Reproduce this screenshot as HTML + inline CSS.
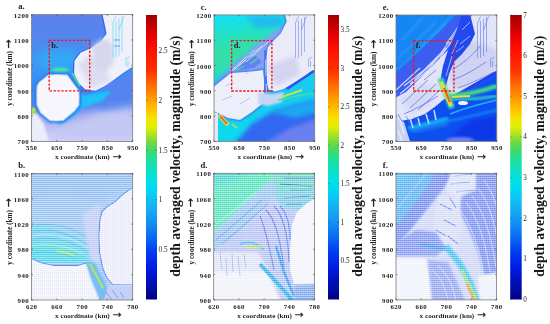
<!DOCTYPE html><html><head><meta charset="utf-8"><style>html,body{margin:0;padding:0;background:#fff;overflow:hidden}svg{display:block}</style></head><body>
<svg width="550" height="324" viewBox="0 0 550 324">
<defs>
<linearGradient id="cm" x1="0" y1="0" x2="0" y2="1">
<stop offset="0.0000" stop-color="#a00000"/>
<stop offset="0.0316" stop-color="#c00000"/>
<stop offset="0.0738" stop-color="#e80000"/>
<stop offset="0.1230" stop-color="#ff1000"/>
<stop offset="0.1933" stop-color="#ff3000"/>
<stop offset="0.2460" stop-color="#ff6a00"/>
<stop offset="0.2988" stop-color="#ffa000"/>
<stop offset="0.3339" stop-color="#ffc400"/>
<stop offset="0.3620" stop-color="#f8e000"/>
<stop offset="0.3902" stop-color="#e4f000"/>
<stop offset="0.4183" stop-color="#b0e420"/>
<stop offset="0.4464" stop-color="#74d840"/>
<stop offset="0.4745" stop-color="#44d868"/>
<stop offset="0.5026" stop-color="#22e090"/>
<stop offset="0.5378" stop-color="#10e0c0"/>
<stop offset="0.5870" stop-color="#00e0e8"/>
<stop offset="0.6221" stop-color="#00d4f4"/>
<stop offset="0.6503" stop-color="#10c0f4"/>
<stop offset="0.6924" stop-color="#14a8f2"/>
<stop offset="0.7417" stop-color="#1088f2"/>
<stop offset="0.7909" stop-color="#0862f2"/>
<stop offset="0.8260" stop-color="#0042f0"/>
<stop offset="0.8787" stop-color="#0020e8"/>
<stop offset="0.9315" stop-color="#0010c0"/>
<stop offset="0.9666" stop-color="#000ca0"/>
<stop offset="1.0000" stop-color="#000080"/>
</linearGradient>
<clipPath id="clipa"><rect x="31.5" y="14.6" width="101.20" height="126.80"/></clipPath>
<clipPath id="clipc"><rect x="214" y="14.9" width="100.70" height="126.50"/></clipPath>
<clipPath id="clipe"><rect x="396" y="15" width="100.80" height="126.40"/></clipPath>
<clipPath id="clipb"><rect x="31.5" y="173.5" width="101.20" height="126.50"/></clipPath>
<clipPath id="clipd"><rect x="213.7" y="173.3" width="100.80" height="126.60"/></clipPath>
<clipPath id="clipf"><rect x="396" y="173.3" width="100.60" height="126.60"/></clipPath>

<filter id="b05" x="-20%" y="-20%" width="140%" height="140%"><feGaussianBlur stdDeviation="0.5"/></filter>
<filter id="b1" x="-20%" y="-20%" width="140%" height="140%"><feGaussianBlur stdDeviation="1"/></filter>
<filter id="b2" x="-30%" y="-30%" width="160%" height="160%"><feGaussianBlur stdDeviation="2"/></filter>
<filter id="b4" x="-50%" y="-50%" width="200%" height="200%"><feGaussianBlur stdDeviation="4"/></filter>
<linearGradient id="ga" x1="0" y1="0" x2="0" y2="1">
<stop offset="0" stop-color="#5e80ea"/><stop offset="0.18" stop-color="#5486ee"/><stop offset="0.4" stop-color="#3e92f4"/><stop offset="0.6" stop-color="#3a8af4"/><stop offset="0.7" stop-color="#4a82f0"/><stop offset="0.8" stop-color="#9aa6f0"/><stop offset="1" stop-color="#dadaf6"/>
</linearGradient>
<linearGradient id="gc1" x1="0" y1="0" x2="0.15" y2="1">
<stop offset="0" stop-color="#12dcf2"/><stop offset="0.18" stop-color="#14e0ec"/><stop offset="0.35" stop-color="#24e0c4"/><stop offset="0.6" stop-color="#34e0a4"/><stop offset="1" stop-color="#2cdcb8"/>
</linearGradient>
<linearGradient id="gc2" x1="0" y1="0" x2="0" y2="1">
<stop offset="0" stop-color="#18a0f0"/><stop offset="0.5" stop-color="#3070f0"/><stop offset="1" stop-color="#6a80f0"/>
</linearGradient>
<linearGradient id="gb" x1="0" y1="0" x2="0" y2="1">
<stop offset="0" stop-color="#4a90f0"/><stop offset="0.5" stop-color="#30b8f0"/><stop offset="0.7" stop-color="#30d0f0"/><stop offset="1" stop-color="#40d0f0"/>
</linearGradient>
<linearGradient id="gd" x1="0" y1="0" x2="0.5" y2="1">
<stop offset="0" stop-color="#40e0c0"/><stop offset="0.6" stop-color="#40d8c8"/><stop offset="1" stop-color="#30b0f0"/>
</linearGradient>
<pattern id="qgrid" x="0" y="0" width="2" height="2" patternUnits="userSpaceOnUse">
<rect x="0" y="1" width="2" height="1" fill="#fff" opacity="0.5"/><rect x="1" y="0" width="1" height="1" fill="#fff" opacity="0.2"/>
</pattern>
<filter id="sat" filterUnits="userSpaceOnUse" x="0" y="0" width="550" height="324" color-interpolation-filters="sRGB"><feColorMatrix type="matrix" values="1.25 0 0 0 -0.25  0 1.25 0 0 -0.25  0 0 1.25 0 -0.25  0 0 0 1 0"/></filter>
<pattern id="qdots" x="0" y="0" width="2" height="2" patternUnits="userSpaceOnUse">
<rect x="0" y="0" width="1" height="1" fill="#c0c8f0" opacity="0.35"/>
</pattern>

<filter id="soft" filterUnits="userSpaceOnUse" x="0" y="0" width="550" height="324"><feGaussianBlur stdDeviation="0.35"/></filter>
</defs>
<rect width="550" height="324" fill="#fff"/>
<g clip-path="url(#clipa)"><g filter="url(#soft)">
<rect x="31.5" y="14.6" width="101.20" height="126.80" fill="url(#ga)" />
<ellipse cx="58" cy="60" rx="24" ry="11" fill="#30acf8" opacity="0.85" filter="url(#b4)"/>
<ellipse cx="60" cy="70" rx="9" ry="2.5" fill="#50e8a0" opacity="0.9" filter="url(#b1)"/>
<path d="M100,86 L136,70 L136,112 L100,112 Z" fill="#5484f0" filter="url(#b2)"/>
<path d="M58,123 C70,119 78,112 84,102 C88,96 96,94 110,93" stroke="#1cb8f8" stroke-width="4" fill="none" filter="url(#b1)"/>
<path d="M80,94 C90,96 100,95 108,92 L104,100 C96,104 88,106 82,108 Z" fill="#20c0f8" filter="url(#b1)"/>
<path d="M40,141.4 L70,124 L100,112 L136,106 L136,141.4 Z" fill="#c4c8f4" filter="url(#b4)"/>
<path d="M102.0,9.6 L102.0,14.6 L104.5,26.0 L106.0,34.0 L100.0,42.0 L90.0,48.5 L80.0,53.0 L74.0,61.0 L73.6,74.0 L78.0,83.0 L84.5,89.5 L95.0,91.0 L104.0,86.5 L113.5,80.0 L123.0,73.0 L131.0,67.7 L136.0,65.0 L136.0,9.6 Z" fill="#2a6cf0" stroke="#2a6cf0" stroke-width="1.6" filter="url(#b05)"/>
<path d="M102.0,9.6 L102.0,14.6 L104.5,26.0 L106.0,34.0 L100.0,42.0 L90.0,48.5 L80.0,53.0 L74.0,61.0 L73.6,74.0 L78.0,83.0 L84.5,89.5 L95.0,91.0 L104.0,86.5 L113.5,80.0 L123.0,73.0 L131.0,67.7 L136.0,65.0 L136.0,9.6 Z" fill="#f0f0fa" transform="translate(0.5,-0.3)"/>
<path d="M77.5,64.6 L91.5,88.6 L111.5,80.6 L91.5,54.6 Z" fill="#dcdcf2" filter="url(#b2)"/>
<path d="M92,46 L104,38 L112,44 L114,62 L104,74 L94,66 Z" fill="#d6d6ee" filter="url(#b2)"/>
<path d="M48.5,75.4 L57.5,75.0 L67.0,75.4 L71.0,81.0 L78.5,91.0 L78.7,97.6 L78.5,105.0 L74.4,110.6 L63.0,120.0 L56.5,120.4 L50.0,120.0 L41.0,112.4 L37.4,105.0 L37.2,95.6 L37.4,86.5 L39.3,82.8 Z" fill="none" stroke="#2a80f0" stroke-width="5" filter="url(#b1)"/>
<path d="M48.5,75.4 L57.5,75.0 L67.0,75.4 L71.0,81.0 L78.5,91.0 L78.7,97.6 L78.5,105.0 L74.4,110.6 L63.0,120.0 L56.5,120.4 L50.0,120.0 L41.0,112.4 L37.4,105.0 L37.2,95.6 L37.4,86.5 L39.3,82.8 Z" fill="#a8c4f8" stroke="#a8c4f8" stroke-width="2"/>
<path d="M48.5,75.4 L57.5,75.0 L67.0,75.4 L71.0,81.0 L78.5,91.0 L78.7,97.6 L78.5,105.0 L74.4,110.6 L63.0,120.0 L56.5,120.4 L50.0,120.0 L41.0,112.4 L37.4,105.0 L37.2,95.6 L37.4,86.5 L39.3,82.8 Z" fill="#f6f6fc"/>
<path d="M72,73 L80,86" stroke="#50e090" stroke-width="1.6" filter="url(#b05)"/>
<path d="M31,112 L37,114 L44,124 L49,141.4 L31,141.4 Z" fill="#ececfa" filter="url(#b1)"/>
<ellipse cx="33.5" cy="111" rx="2" ry="3.5" fill="#b0e040" filter="url(#b05)"/>
<path d="M113.0,57.6V22.6M116.0,57.6V20.6M119.0,55.6V18.6M122.0,51.6V16.6M113.0,22.6L116.0,16.1M119.0,29.6L124.0,16.1M126.0,66.6V58.6L130.0,56.6M128.0,66.6V60.6" stroke="#40d0f0" stroke-width="0.55" fill="none"/>
<path d="M114,40 h6 M114,46 h6" stroke="#8090f0" stroke-width="1" fill="none"/>
</g></g>
<rect x="49.21" y="40.36" width="40.48" height="50.52" fill="none" stroke="#f01818" stroke-width="1.35" stroke-dasharray="2.4 1.5"/>
<text transform="translate(51.31,47.76) scale(1.0,0.95)" font-family="Liberation Serif, serif" font-weight="bold" font-size="8.4" fill="#1a1a2a">b.</text>
<rect x="31.5" y="14.6" width="101.20" height="126.80" fill="none" stroke="#7a7a7a" stroke-width="0.8"/>
<text transform="translate(31.70,150.20) scale(0.95,0.86)" font-family="Liberation Serif, serif" font-weight="bold" font-size="7.2" letter-spacing="0.45" fill="#222" text-anchor="middle">550</text>
<text transform="translate(57.00,150.20) scale(0.95,0.86)" font-family="Liberation Serif, serif" font-weight="bold" font-size="7.2" letter-spacing="0.45" fill="#222" text-anchor="middle">650</text>
<text transform="translate(82.30,150.20) scale(0.95,0.86)" font-family="Liberation Serif, serif" font-weight="bold" font-size="7.2" letter-spacing="0.45" fill="#222" text-anchor="middle">750</text>
<text transform="translate(107.60,150.20) scale(0.95,0.86)" font-family="Liberation Serif, serif" font-weight="bold" font-size="7.2" letter-spacing="0.45" fill="#222" text-anchor="middle">850</text>
<text transform="translate(132.90,150.20) scale(0.95,0.86)" font-family="Liberation Serif, serif" font-weight="bold" font-size="7.2" letter-spacing="0.45" fill="#222" text-anchor="middle">950</text>
<text transform="translate(29.10,144.40) scale(0.95,0.86)" font-family="Liberation Serif, serif" font-weight="bold" font-size="7.2" letter-spacing="0.45" fill="#222" text-anchor="end">700</text>
<text transform="translate(29.10,119.04) scale(0.95,0.86)" font-family="Liberation Serif, serif" font-weight="bold" font-size="7.2" letter-spacing="0.45" fill="#222" text-anchor="end">800</text>
<text transform="translate(29.10,93.68) scale(0.95,0.86)" font-family="Liberation Serif, serif" font-weight="bold" font-size="7.2" letter-spacing="0.45" fill="#222" text-anchor="end">900</text>
<text transform="translate(29.10,68.32) scale(0.95,0.86)" font-family="Liberation Serif, serif" font-weight="bold" font-size="7.2" letter-spacing="0.45" fill="#222" text-anchor="end">1000</text>
<text transform="translate(29.10,42.96) scale(0.95,0.86)" font-family="Liberation Serif, serif" font-weight="bold" font-size="7.2" letter-spacing="0.45" fill="#222" text-anchor="end">1100</text>
<text transform="translate(29.10,17.60) scale(0.95,0.86)" font-family="Liberation Serif, serif" font-weight="bold" font-size="7.2" letter-spacing="0.45" fill="#222" text-anchor="end">1200</text>
<path d="M31.50 141.4v-1.5M31.50 14.6v1.5M56.80 141.4v-1.5M56.80 14.6v1.5M82.10 141.4v-1.5M82.10 14.6v1.5M107.40 141.4v-1.5M107.40 14.6v1.5M132.70 141.4v-1.5M132.70 14.6v1.5M31.5 141.40h1.5M132.7 141.40h-1.5M31.5 116.04h1.5M132.7 116.04h-1.5M31.5 90.68h1.5M132.7 90.68h-1.5M31.5 65.32h1.5M132.7 65.32h-1.5M31.5 39.96h1.5M132.7 39.96h-1.5M31.5 14.60h1.5M132.7 14.60h-1.5" stroke="#444" stroke-width="0.6" fill="none"/>
<text transform="translate(55.10,159.30) scale(1,0.88)" font-family="Liberation Serif, serif" font-weight="bold" font-size="7.2" fill="#262626">x coordinate (km) <tspan font-family="DejaVu Sans" font-size="11" dx="0.6" dy="0.3">→</tspan></text>
<text transform="translate(11.80,105.80) rotate(-90)" font-family="Liberation Serif, serif" font-weight="bold" font-size="7.2" fill="#262626">y coordinate (km) <tspan font-family="DejaVu Sans" font-size="11" dx="0.6" dy="0.3">→</tspan></text>
<text transform="translate(18.30,9.40) scale(1.05,0.9)" font-family="Liberation Serif, serif" font-weight="bold" font-size="8.2" fill="#222">a.</text>
<g clip-path="url(#clipc)"><g filter="url(#soft)">
<rect x="214" y="14.9" width="100.70" height="126.50" fill="#14ccf0" />
<path d="M214,112 L240,121 L250,118 L242,141.4 L214,141.4 Z" fill="#10d8ee" filter="url(#b2)"/>
<path d="M209,9.9 L284,9.9 L287,24 L272,34 L252,48 L234,64 L209,84 Z" fill="url(#gc1)" filter="url(#b1)"/>
<path d="M246,16 L282,16 L284,26 L256,28 Z" fill="#20bcf0" filter="url(#b2)"/>
<path d="M270,37 L287,33" stroke="#e8e040" stroke-width="2" filter="url(#b05)"/>
<path d="M262,41 L282,36" stroke="#b0e050" stroke-width="1.2" filter="url(#b05)"/>
<path d="M236,141.4 L252,124 L272,112 L300,104 L320,100 L320,145 L236,145 Z" fill="#3068f0" filter="url(#b2)"/>
<path d="M262,145 L290,128 L320,118 L320,145 Z" fill="#6a80f0" filter="url(#b2)"/>
<path d="M270,112 L300,104 L318,100 L318,112 L296,118 Z" fill="#1ca8f0" filter="url(#b2)"/>
<path d="M214,84 L234,64 L252,48 L272,33 L287,24 L280,36 L270,44 L266,56 L264,72 L246,72 L231,73 L214,90 Z" fill="#84a2f0" filter="url(#b1)"/>
<path d="M236,66 L246,58 L256,56 L262,62 L254,68 L240,70 Z" fill="#5070f0" opacity="0.6" filter="url(#b05)"/>
<path d="M232,70 L254,50 M238,66 L262,46 M246,62 L270,40 M226,76 L246,60" stroke="#e6ecfa" stroke-width="1" fill="none" opacity="0.8"/>
<path d="M242,58 L254,52 M250,64 L258,58 M236,70 L244,66" stroke="#40e090" stroke-width="1.2" fill="none" filter="url(#b05)"/>
<path d="M283.0,10.0 L286.0,22.0 L280.0,34.0 L272.0,42.0 L267.0,48.0 L265.0,62.0 L266.0,84.0 L268.0,90.0 L274.0,92.0 L282.0,90.0 L292.0,84.0 L302.0,78.0 L310.0,72.0 L320.0,68.0 L320.0,10.0 Z" fill="#3058f0" filter="url(#b1)"/>
<path d="M283.0,10.0 L286.0,22.0 L280.0,34.0 L272.0,42.0 L267.0,48.0 L265.0,62.0 L266.0,84.0 L268.0,90.0 L274.0,92.0 L282.0,90.0 L292.0,84.0 L302.0,78.0 L310.0,72.0 L320.0,68.0 L320.0,10.0 Z" fill="#eaeaf8" transform="translate(0.7,-0.4)"/>
<path d="M268,66 L276,86 L300,74 L296,56 Z" fill="#d4d4f0" filter="url(#b2)"/>
<path d="M287,89 L314,71" stroke="#3050f0" stroke-width="2.2" filter="url(#b05)"/>
<path d="M211.0,89.0 L222.0,80.0 L231.0,73.0 L246.0,72.0 L256.0,71.0 L263.0,70.0 L264.0,80.0 L264.0,92.0 L262.0,104.0 L252.0,112.0 L240.0,120.0 L228.0,118.0 L218.0,113.0 L211.0,110.0 Z" fill="#3a70f0" stroke="#3a70f0" stroke-width="2" filter="url(#b1)"/>
<path d="M211.0,89.0 L222.0,80.0 L231.0,73.0 L246.0,72.0 L256.0,71.0 L263.0,70.0 L264.0,80.0 L264.0,92.0 L262.0,104.0 L252.0,112.0 L240.0,120.0 L228.0,118.0 L218.0,113.0 L211.0,110.0 Z" fill="#eceffa"/>
<path d="M222,100 L232,96 M240,104 L250,98 M226,86 L234,82 M246,74 L254,68" stroke="#a0b0f0" stroke-width="1" opacity="0.7"/>
<path d="M212,112 L218,113 L218,141.4 L212,141.4 Z" fill="#e0e8f8" filter="url(#b05)"/>
<path d="M265,50 L265,70 L266,90 L268,100" stroke="#4a78f0" stroke-width="3" fill="none" filter="url(#b05)"/>
<path d="M265.5,60 L266,76 M266,84 L267,96" stroke="#c8d8f8" stroke-width="0.8" fill="none"/>
<path d="M258,92 L272,94 L284,92 L282,102 L268,106 L258,104 Z" fill="#c8d4f4" filter="url(#b1)"/>
<path d="M282,97 L302,90" stroke="#c8e440" stroke-width="2" filter="url(#b05)"/>
<path d="M278,100 L312,93" stroke="#40e0a0" stroke-width="1.5" filter="url(#b05)"/>
<path d="M219,115 L228,125" stroke="#e8e040" stroke-width="4" filter="url(#b05)"/>
<path d="M220,116 L227,124" stroke="#f07020" stroke-width="2" filter="url(#b05)"/>
<path d="M232,124 L237,128" stroke="#e0d040" stroke-width="1.5" filter="url(#b05)"/>
<path d="M295.5,57.9V22.9M298.5,57.9V20.9M301.5,55.9V18.9M304.5,51.9V16.9M295.5,22.9L298.5,16.4M301.5,29.9L306.5,16.4M308.5,66.9V58.9L312.5,56.9M310.5,66.9V60.9" stroke="#6080f0" stroke-width="0.55" fill="none"/>
</g></g>
<rect x="231.62" y="40.60" width="40.28" height="50.40" fill="none" stroke="#f01818" stroke-width="1.35" stroke-dasharray="2.4 1.5"/>
<text transform="translate(233.72,48.00) scale(1.0,0.95)" font-family="Liberation Serif, serif" font-weight="bold" font-size="8.4" fill="#1a1a2a">d.</text>
<rect x="214" y="14.9" width="100.70" height="126.50" fill="none" stroke="#7a7a7a" stroke-width="0.8"/>
<text transform="translate(214.20,150.20) scale(0.95,0.86)" font-family="Liberation Serif, serif" font-weight="bold" font-size="7.2" letter-spacing="0.45" fill="#222" text-anchor="middle">550</text>
<text transform="translate(239.38,150.20) scale(0.95,0.86)" font-family="Liberation Serif, serif" font-weight="bold" font-size="7.2" letter-spacing="0.45" fill="#222" text-anchor="middle">650</text>
<text transform="translate(264.55,150.20) scale(0.95,0.86)" font-family="Liberation Serif, serif" font-weight="bold" font-size="7.2" letter-spacing="0.45" fill="#222" text-anchor="middle">750</text>
<text transform="translate(289.72,150.20) scale(0.95,0.86)" font-family="Liberation Serif, serif" font-weight="bold" font-size="7.2" letter-spacing="0.45" fill="#222" text-anchor="middle">850</text>
<text transform="translate(314.90,150.20) scale(0.95,0.86)" font-family="Liberation Serif, serif" font-weight="bold" font-size="7.2" letter-spacing="0.45" fill="#222" text-anchor="middle">950</text>
<text transform="translate(211.60,144.40) scale(0.95,0.86)" font-family="Liberation Serif, serif" font-weight="bold" font-size="7.2" letter-spacing="0.45" fill="#222" text-anchor="end">700</text>
<text transform="translate(211.60,119.10) scale(0.95,0.86)" font-family="Liberation Serif, serif" font-weight="bold" font-size="7.2" letter-spacing="0.45" fill="#222" text-anchor="end">800</text>
<text transform="translate(211.60,93.80) scale(0.95,0.86)" font-family="Liberation Serif, serif" font-weight="bold" font-size="7.2" letter-spacing="0.45" fill="#222" text-anchor="end">900</text>
<text transform="translate(211.60,68.50) scale(0.95,0.86)" font-family="Liberation Serif, serif" font-weight="bold" font-size="7.2" letter-spacing="0.45" fill="#222" text-anchor="end">1000</text>
<text transform="translate(211.60,43.20) scale(0.95,0.86)" font-family="Liberation Serif, serif" font-weight="bold" font-size="7.2" letter-spacing="0.45" fill="#222" text-anchor="end">1100</text>
<text transform="translate(211.60,17.90) scale(0.95,0.86)" font-family="Liberation Serif, serif" font-weight="bold" font-size="7.2" letter-spacing="0.45" fill="#222" text-anchor="end">1200</text>
<path d="M214.00 141.4v-1.5M214.00 14.9v1.5M239.18 141.4v-1.5M239.18 14.9v1.5M264.35 141.4v-1.5M264.35 14.9v1.5M289.52 141.4v-1.5M289.52 14.9v1.5M314.70 141.4v-1.5M314.70 14.9v1.5M214 141.40h1.5M314.7 141.40h-1.5M214 116.10h1.5M314.7 116.10h-1.5M214 90.80h1.5M314.7 90.80h-1.5M214 65.50h1.5M314.7 65.50h-1.5M214 40.20h1.5M314.7 40.20h-1.5M214 14.90h1.5M314.7 14.90h-1.5" stroke="#444" stroke-width="0.6" fill="none"/>
<text transform="translate(237.60,159.30) scale(1,0.88)" font-family="Liberation Serif, serif" font-weight="bold" font-size="7.2" fill="#262626">x coordinate (km) <tspan font-family="DejaVu Sans" font-size="11" dx="0.6" dy="0.3">→</tspan></text>
<text transform="translate(194.30,106.10) rotate(-90)" font-family="Liberation Serif, serif" font-weight="bold" font-size="7.2" fill="#262626">y coordinate (km) <tspan font-family="DejaVu Sans" font-size="11" dx="0.6" dy="0.3">→</tspan></text>
<text transform="translate(200.80,9.70) scale(1.05,0.9)" font-family="Liberation Serif, serif" font-weight="bold" font-size="8.2" fill="#222">c.</text>
<g clip-path="url(#clipe)"><g filter="url(#soft)">
<rect x="396" y="15" width="100.80" height="126.40" fill="#1050f0" />
<path d="M391,10 L462,10 L453,19 L438,34 L416,55 L391,78 Z" fill="#1886f4" filter="url(#b1)"/>
<path d="M398,58 L436,22 M398,70 L446,24 M402,40 L424,16 M420,48 L452,16" stroke="#48b0f8" stroke-width="1.3" opacity="0.6" filter="url(#b1)"/>
<path d="M391,78 L416,55 L438,34 L453,19 L462,10 L472,10 L464,30 L452,46 L440,58 L430,68 L418,80 L406,92 L391,100 Z" fill="#3c5cf0" filter="url(#b05)"/>
<path d="M396,90 L420,68 M400,94 L428,70 M410,84 L436,60 M418,76 L446,48 M426,72 L452,42 M434,62 L458,30 M440,58 L462,26 M446,44 L466,16 M404,86 L424,70" stroke="#e6eafc" stroke-width="1.1" opacity="0.85" fill="none"/>
<path d="M391.0,100.0 L406.0,92.0 L418.0,80.0 L430.0,68.0 L440.0,58.0 L452.0,46.0 L464.0,30.0 L472.0,10.0 L500.0,10.0 L500.0,70.0 L486.0,77.0 L472.0,85.0 L460.0,92.0 L450.0,96.0 L443.0,100.0 L436.0,106.0 L425.0,114.0 L412.0,119.0 L400.0,121.0 L391.0,120.0 Z" fill="#e2e4f7"/>
<path d="M446,60 L470,40 L497,50 L497,70 L470,86 L452,90 Z" fill="#cfd2f0" filter="url(#b2)"/>
<path d="M400,100 L420,84 L438,86 L430,106 L410,112 Z" fill="#d6d9f3" filter="url(#b2)"/>
<path d="M402,104 L428,80 M410,108 L436,84 M418,110 L440,90 M404,114 C418,108 428,102 438,96 M452,70 C462,64 472,56 480,46 M452,80 C464,76 474,70 486,62 M458,88 C470,84 482,78 494,72 M398,114 L402,122 M406,116 L410,124 M414,117 L417,124 M424,80 L436,70" stroke="#4a66f0" stroke-width="0.9" opacity="0.75" fill="none"/>
<path d="M462,14 L470,14 L475,34 L470,44 L462,54 L454,62 L449,74 L446,86 L440,82 L443,66 L448,50 L456,32 Z" fill="#2048f0" filter="url(#b05)"/>
<path d="M452,56 L446,76 M458,40 L452,54 M462,30 L470,22 M460,44 L470,36 M456,52 L464,46" stroke="#e0e6fa" stroke-width="0.9" opacity="0.75"/>
<path d="M455,96 L497,72" stroke="#2040f0" stroke-width="3" filter="url(#b05)"/>
<path d="M446,96 C465,95 480,92 497,86" stroke="#40e080" stroke-width="4" fill="none" filter="url(#b1)"/>
<path d="M448,99 C465,100 480,99 497,96" stroke="#30d0c0" stroke-width="2.5" fill="none" filter="url(#b1)"/>
<path d="M452,97 L470,96" stroke="#e0e040" stroke-width="2" filter="url(#b05)"/>
<path d="M440,78 L452,108" stroke="#40e0a0" stroke-width="6" filter="url(#b1)"/>
<path d="M441,82 L451,106" stroke="#d8e040" stroke-width="4" filter="url(#b05)"/>
<path d="M444,88 L450,102" stroke="#f06020" stroke-width="2.2" filter="url(#b05)"/>
<ellipse cx="463" cy="103" rx="5" ry="2" fill="#f4f4fc" filter="url(#b05)"/>
<path d="M450,114 C465,108 480,104 497,100" stroke="#20b0f8" stroke-width="1.5" fill="none" filter="url(#b05)"/>
<path d="M408,128 C425,125 435,122 448,118" stroke="#10a8f8" stroke-width="3" fill="none" filter="url(#b1)"/>
<path d="M445,141.4 L470,120 L497,115 L497,141.4 Z" fill="#1038e8" filter="url(#b2)"/>
<ellipse cx="460" cy="140" rx="14" ry="3" fill="#7080f0" filter="url(#b1)"/>
<path d="M394,118 L404,122 L410,141.4 L394,141.4 Z" fill="#c8d2f6" filter="url(#b05)"/>
<path d="M400,120 L404,134 M410,118 L413,128 M418,118 L420,126 M426,114 L429,124 M434,110 L436,120 M398,130 L402,141" stroke="#e8ecfa" stroke-width="1.6" opacity="0.85" fill="none"/>
<path d="M410,130 C425,127 435,124 448,121" stroke="#28c0f8" stroke-width="5" fill="none" opacity="0.6" filter="url(#b2)"/>
<path d="M448,121 C465,118 480,114 497,110" stroke="#18a0f8" stroke-width="2" fill="none" opacity="0.7" filter="url(#b1)"/>
<path d="M477.5,58V23M480.5,58V21M483.5,56V19M486.5,52V17M477.5,23L480.5,16.5M483.5,30L488.5,16.5M490.5,67V59L494.5,57M492.5,67V61" stroke="#5070f0" stroke-width="0.55" fill="none"/>
</g></g>
<rect x="413.64" y="40.68" width="40.32" height="50.36" fill="none" stroke="#f01818" stroke-width="1.35" stroke-dasharray="2.4 1.5"/>
<text transform="translate(415.74,48.08) scale(1.0,0.95)" font-family="Liberation Serif, serif" font-weight="bold" font-size="8.4" fill="#1a1a2a">f.</text>
<rect x="396" y="15" width="100.80" height="126.40" fill="none" stroke="#7a7a7a" stroke-width="0.8"/>
<text transform="translate(396.20,150.20) scale(0.95,0.86)" font-family="Liberation Serif, serif" font-weight="bold" font-size="7.2" letter-spacing="0.45" fill="#222" text-anchor="middle">550</text>
<text transform="translate(421.40,150.20) scale(0.95,0.86)" font-family="Liberation Serif, serif" font-weight="bold" font-size="7.2" letter-spacing="0.45" fill="#222" text-anchor="middle">650</text>
<text transform="translate(446.60,150.20) scale(0.95,0.86)" font-family="Liberation Serif, serif" font-weight="bold" font-size="7.2" letter-spacing="0.45" fill="#222" text-anchor="middle">750</text>
<text transform="translate(471.80,150.20) scale(0.95,0.86)" font-family="Liberation Serif, serif" font-weight="bold" font-size="7.2" letter-spacing="0.45" fill="#222" text-anchor="middle">850</text>
<text transform="translate(497.00,150.20) scale(0.95,0.86)" font-family="Liberation Serif, serif" font-weight="bold" font-size="7.2" letter-spacing="0.45" fill="#222" text-anchor="middle">950</text>
<text transform="translate(393.60,144.40) scale(0.95,0.86)" font-family="Liberation Serif, serif" font-weight="bold" font-size="7.2" letter-spacing="0.45" fill="#222" text-anchor="end">700</text>
<text transform="translate(393.60,119.12) scale(0.95,0.86)" font-family="Liberation Serif, serif" font-weight="bold" font-size="7.2" letter-spacing="0.45" fill="#222" text-anchor="end">800</text>
<text transform="translate(393.60,93.84) scale(0.95,0.86)" font-family="Liberation Serif, serif" font-weight="bold" font-size="7.2" letter-spacing="0.45" fill="#222" text-anchor="end">900</text>
<text transform="translate(393.60,68.56) scale(0.95,0.86)" font-family="Liberation Serif, serif" font-weight="bold" font-size="7.2" letter-spacing="0.45" fill="#222" text-anchor="end">1000</text>
<text transform="translate(393.60,43.28) scale(0.95,0.86)" font-family="Liberation Serif, serif" font-weight="bold" font-size="7.2" letter-spacing="0.45" fill="#222" text-anchor="end">1100</text>
<text transform="translate(393.60,18.00) scale(0.95,0.86)" font-family="Liberation Serif, serif" font-weight="bold" font-size="7.2" letter-spacing="0.45" fill="#222" text-anchor="end">1200</text>
<path d="M396.00 141.4v-1.5M396.00 15v1.5M421.20 141.4v-1.5M421.20 15v1.5M446.40 141.4v-1.5M446.40 15v1.5M471.60 141.4v-1.5M471.60 15v1.5M496.80 141.4v-1.5M496.80 15v1.5M396 141.40h1.5M496.8 141.40h-1.5M396 116.12h1.5M496.8 116.12h-1.5M396 90.84h1.5M496.8 90.84h-1.5M396 65.56h1.5M496.8 65.56h-1.5M396 40.28h1.5M496.8 40.28h-1.5M396 15.00h1.5M496.8 15.00h-1.5" stroke="#444" stroke-width="0.6" fill="none"/>
<text transform="translate(419.60,159.30) scale(1,0.88)" font-family="Liberation Serif, serif" font-weight="bold" font-size="7.2" fill="#262626">x coordinate (km) <tspan font-family="DejaVu Sans" font-size="11" dx="0.6" dy="0.3">→</tspan></text>
<text transform="translate(376.30,106.20) rotate(-90)" font-family="Liberation Serif, serif" font-weight="bold" font-size="7.2" fill="#262626">y coordinate (km) <tspan font-family="DejaVu Sans" font-size="11" dx="0.6" dy="0.3">→</tspan></text>
<text transform="translate(382.80,9.80) scale(1.05,0.9)" font-family="Liberation Serif, serif" font-weight="bold" font-size="8.2" fill="#222">e.</text>
<g clip-path="url(#clipb)"><g filter="url(#soft)">
<g filter="url(#sat)">
<rect x="31.5" y="173.5" width="101.20" height="126.50" fill="#a0c8f6" />
<path d="M26,168 L136,168 L136,186 L100,200 L60,196 L26,200 Z" fill="#98c2f6" filter="url(#b2)"/>
<path d="M26,222 L55,228 L76,236 L88,248 L92,262 L26,262 Z" fill="#74d4f0" filter="url(#b2)"/>
<path d="M26,240 L60,243 L80,250 L90,262 L26,262 Z" fill="#54dae8" filter="url(#b1)"/>
<path d="M82,214 L100,204 L100,262 L92,262 Z" fill="#c4d0f6" filter="url(#b1)"/>
<path d="M56,252 C62,251 68,253 74,256" stroke="#b8e860" stroke-width="2" fill="none" filter="url(#b05)"/>
<path d="M40,248 C55,246 66,248 80,253" stroke="#70e0b0" stroke-width="1.4" fill="none" filter="url(#b05)"/>
<path d="M30,232 C48,228 68,232 86,244 M30,240 C50,236 70,240 88,252 M30,254 C44,250 60,252 76,258 M30,226 C50,222 70,226 84,236" stroke="#30c8ee" stroke-width="1.2" fill="none" opacity="0.7"/>
<path d="M30,236 C50,232 70,236 88,248 M30,246 C48,243 66,245 84,254" stroke="#d8f4fc" stroke-width="1" fill="none" opacity="0.6"/>
</g>
<rect x="31.5" y="173.5" width="101.20" height="126.50" fill="url(#qgrid)" />
<path d="M137.5,186.0 L132.2,188.0 L123.0,194.5 L115.0,202.0 L107.0,207.0 L102.0,212.0 L100.0,220.0 L99.0,235.0 L99.5,252.0 L103.0,268.5 L107.0,278.0 L112.5,284.0 L137.5,284.5 Z" fill="none" stroke="#5a88f0" stroke-width="1.1" filter="url(#b05)"/>
<path d="M26.5,256.5 L41.5,263.0 L54.0,265.5 L78.0,265.5 L86.5,263.0 L90.0,272.5 L93.5,282.0 L98.0,292.0 L100.5,305.5 L26.5,305.5 Z" fill="none" stroke="#6090f0" stroke-width="1.1" filter="url(#b05)"/>
<path d="M137.5,186.0 L132.2,188.0 L123.0,194.5 L115.0,202.0 L107.0,207.0 L102.0,212.0 L100.0,220.0 L99.0,235.0 L99.5,252.0 L103.0,268.5 L107.0,278.0 L112.5,284.0 L137.5,284.5 Z" fill="#f3f4fb" transform="translate(0.5,0)"/>
<path d="M26.5,256.5 L41.5,263.0 L54.0,265.5 L78.0,265.5 L86.5,263.0 L90.0,272.5 L93.5,282.0 L98.0,292.0 L100.5,305.5 L26.5,305.5 Z" fill="#f8f8fc" transform="translate(0,0.5)"/>
<rect x="31.5" y="173.5" width="101.20" height="126.50" fill="url(#qdots)" />
<path d="M86,262 L94,262 L104,280 L112,300 L100,300 L92,282 Z" fill="#78bef2" filter="url(#b1)"/>
<path d="M90,264 L103,288" stroke="#b0e860" stroke-width="2" filter="url(#b05)"/>
<path d="M108,286 L133,286 L133,300 L104,300 Z" fill="#c4d0f6" filter="url(#b05)"/>
<path d="M106,292 L112,300 M112,290 L118,298 M120,292 L124,298" stroke="#5a80f0" stroke-width="1" opacity="0.6"/>
</g></g>
<rect x="31.5" y="173.5" width="101.20" height="126.50" fill="none" stroke="#7a7a7a" stroke-width="0.8"/>
<text transform="translate(31.70,308.80) scale(0.95,0.86)" font-family="Liberation Serif, serif" font-weight="bold" font-size="7.2" letter-spacing="0.45" fill="#222" text-anchor="middle">620</text>
<text transform="translate(57.00,308.80) scale(0.95,0.86)" font-family="Liberation Serif, serif" font-weight="bold" font-size="7.2" letter-spacing="0.45" fill="#222" text-anchor="middle">660</text>
<text transform="translate(82.30,308.80) scale(0.95,0.86)" font-family="Liberation Serif, serif" font-weight="bold" font-size="7.2" letter-spacing="0.45" fill="#222" text-anchor="middle">700</text>
<text transform="translate(107.60,308.80) scale(0.95,0.86)" font-family="Liberation Serif, serif" font-weight="bold" font-size="7.2" letter-spacing="0.45" fill="#222" text-anchor="middle">740</text>
<text transform="translate(132.90,308.80) scale(0.95,0.86)" font-family="Liberation Serif, serif" font-weight="bold" font-size="7.2" letter-spacing="0.45" fill="#222" text-anchor="middle">780</text>
<text transform="translate(29.10,303.00) scale(0.95,0.86)" font-family="Liberation Serif, serif" font-weight="bold" font-size="7.2" letter-spacing="0.45" fill="#222" text-anchor="end">900</text>
<text transform="translate(29.10,277.70) scale(0.95,0.86)" font-family="Liberation Serif, serif" font-weight="bold" font-size="7.2" letter-spacing="0.45" fill="#222" text-anchor="end">940</text>
<text transform="translate(29.10,252.40) scale(0.95,0.86)" font-family="Liberation Serif, serif" font-weight="bold" font-size="7.2" letter-spacing="0.45" fill="#222" text-anchor="end">980</text>
<text transform="translate(29.10,227.10) scale(0.95,0.86)" font-family="Liberation Serif, serif" font-weight="bold" font-size="7.2" letter-spacing="0.45" fill="#222" text-anchor="end">1020</text>
<text transform="translate(29.10,201.80) scale(0.95,0.86)" font-family="Liberation Serif, serif" font-weight="bold" font-size="7.2" letter-spacing="0.45" fill="#222" text-anchor="end">1060</text>
<text transform="translate(29.10,176.50) scale(0.95,0.86)" font-family="Liberation Serif, serif" font-weight="bold" font-size="7.2" letter-spacing="0.45" fill="#222" text-anchor="end">1100</text>
<path d="M31.50 300v-1.5M31.50 173.5v1.5M56.80 300v-1.5M56.80 173.5v1.5M82.10 300v-1.5M82.10 173.5v1.5M107.40 300v-1.5M107.40 173.5v1.5M132.70 300v-1.5M132.70 173.5v1.5M31.5 300.00h1.5M132.7 300.00h-1.5M31.5 274.70h1.5M132.7 274.70h-1.5M31.5 249.40h1.5M132.7 249.40h-1.5M31.5 224.10h1.5M132.7 224.10h-1.5M31.5 198.80h1.5M132.7 198.80h-1.5M31.5 173.50h1.5M132.7 173.50h-1.5" stroke="#444" stroke-width="0.6" fill="none"/>
<text transform="translate(55.10,317.90) scale(1,0.88)" font-family="Liberation Serif, serif" font-weight="bold" font-size="7.2" fill="#262626">x coordinate (km) <tspan font-family="DejaVu Sans" font-size="11" dx="0.6" dy="0.3">→</tspan></text>
<text transform="translate(11.80,264.70) rotate(-90)" font-family="Liberation Serif, serif" font-weight="bold" font-size="7.2" fill="#262626">y coordinate (km) <tspan font-family="DejaVu Sans" font-size="11" dx="0.6" dy="0.3">→</tspan></text>
<text transform="translate(18.30,168.30) scale(1.05,0.9)" font-family="Liberation Serif, serif" font-weight="bold" font-size="8.2" fill="#222">b.</text>
<g clip-path="url(#clipd)"><g filter="url(#soft)">
<g filter="url(#sat)">
<rect x="213.7" y="173.3" width="100.80" height="126.60" fill="#c0caf4" />
<path d="M208,168 L280,168 L272,180 L256,194 L240,208 L226,222 L214,232 L208,234 Z" fill="#6ee6c6" filter="url(#b1)"/>
<path d="M208,168 L262,168 L236,180 L208,188 Z" fill="#5edcd4" filter="url(#b2)"/>
<path d="M214,226 L256,192" stroke="#a8f0d8" stroke-width="1.5" opacity="0.7" filter="url(#b05)"/>
<path d="M274,168 L318,168 L318,192 L296,196 L270,194 Z" fill="#80dcd0" filter="url(#b1)"/>
<path d="M290,170 L318,170 L318,176 L290,174 Z" fill="#78e8b8" filter="url(#b05)"/>
<path d="M284,178 L314,178 M280,184 L312,186 M290,190 L312,190" stroke="#5a78f0" stroke-width="1.1" opacity="0.8"/>
<path d="M270,192 L316,190 L316,200 L300,210 L284,208 Z" fill="#8cd4e4" filter="url(#b1)"/>
<path d="M284,198 L310,196 M286,204 L302,204" stroke="#6a80f0" stroke-width="1" opacity="0.8"/>
<path d="M208,234 L214,232 L226,222 L240,208 L256,194 L272,180 L278,190 L266,206 L250,222 L234,238 L214,248 L208,250 Z" fill="#a6ccf2" filter="url(#b1)"/>
<path d="M216,240 L262,200 M222,244 L268,204" stroke="#5a7af0" stroke-width="1" opacity="0.6"/>
<path d="M240,244 C250,240 258,244 264,250" stroke="#60c8f0" stroke-width="2" fill="none" filter="url(#b05)"/>
<path d="M246,247 L261,246" stroke="#c0e860" stroke-width="2" filter="url(#b05)"/>
<path d="M208,252 L258,252 L266,266 L280,300 L208,304 Z" fill="#e2e6f8" filter="url(#b1)"/>
<path d="M208,272 L266,272 L282,304 L208,304 Z" fill="#f2f3fa" filter="url(#b1)"/>
<path d="M220,252 L222,270 M232,254 L233,272 M244,254 L246,268 M226,258 L227,276 M238,256 L240,276" stroke="#7088f0" stroke-width="0.8" opacity="0.55"/>
<path d="M318.0,196.0 L306.0,204.0 L297.0,212.0 L292.0,224.0 L290.0,250.0 L290.0,270.0 L294.0,284.0 L318.0,284.0 Z" fill="#f4f5fc" filter="url(#b05)"/>
<path d="M266,210 C276,220 280,240 284,268 M274,206 C284,216 288,236 289,262 M260,216 C266,230 270,250 274,270 M280,206 C288,214 290,226 290,240" stroke="#4a74f0" stroke-width="1.2" fill="none" opacity="0.7"/>
<path d="M260,264 L280,286 L294,302" stroke="#40bcf0" stroke-width="4" fill="none" filter="url(#b05)"/>
<path d="M276,246 L284,272 L294,296" stroke="#48a8f0" stroke-width="2.5" fill="none" filter="url(#b05)"/>
<path d="M294,286 L316,284 L316,302 L294,302 Z" fill="#90b4f2" filter="url(#b1)"/>
</g>
<rect x="213.7" y="173.3" width="100.80" height="126.60" fill="url(#qgrid)" />
</g></g>
<rect x="213.7" y="173.3" width="100.80" height="126.60" fill="none" stroke="#7a7a7a" stroke-width="0.8"/>
<text transform="translate(213.90,308.70) scale(0.95,0.86)" font-family="Liberation Serif, serif" font-weight="bold" font-size="7.2" letter-spacing="0.45" fill="#222" text-anchor="middle">620</text>
<text transform="translate(239.10,308.70) scale(0.95,0.86)" font-family="Liberation Serif, serif" font-weight="bold" font-size="7.2" letter-spacing="0.45" fill="#222" text-anchor="middle">660</text>
<text transform="translate(264.30,308.70) scale(0.95,0.86)" font-family="Liberation Serif, serif" font-weight="bold" font-size="7.2" letter-spacing="0.45" fill="#222" text-anchor="middle">700</text>
<text transform="translate(289.50,308.70) scale(0.95,0.86)" font-family="Liberation Serif, serif" font-weight="bold" font-size="7.2" letter-spacing="0.45" fill="#222" text-anchor="middle">740</text>
<text transform="translate(314.70,308.70) scale(0.95,0.86)" font-family="Liberation Serif, serif" font-weight="bold" font-size="7.2" letter-spacing="0.45" fill="#222" text-anchor="middle">780</text>
<text transform="translate(211.30,302.90) scale(0.95,0.86)" font-family="Liberation Serif, serif" font-weight="bold" font-size="7.2" letter-spacing="0.45" fill="#222" text-anchor="end">900</text>
<text transform="translate(211.30,277.58) scale(0.95,0.86)" font-family="Liberation Serif, serif" font-weight="bold" font-size="7.2" letter-spacing="0.45" fill="#222" text-anchor="end">940</text>
<text transform="translate(211.30,252.26) scale(0.95,0.86)" font-family="Liberation Serif, serif" font-weight="bold" font-size="7.2" letter-spacing="0.45" fill="#222" text-anchor="end">980</text>
<text transform="translate(211.30,226.94) scale(0.95,0.86)" font-family="Liberation Serif, serif" font-weight="bold" font-size="7.2" letter-spacing="0.45" fill="#222" text-anchor="end">1020</text>
<text transform="translate(211.30,201.62) scale(0.95,0.86)" font-family="Liberation Serif, serif" font-weight="bold" font-size="7.2" letter-spacing="0.45" fill="#222" text-anchor="end">1060</text>
<text transform="translate(211.30,176.30) scale(0.95,0.86)" font-family="Liberation Serif, serif" font-weight="bold" font-size="7.2" letter-spacing="0.45" fill="#222" text-anchor="end">1100</text>
<path d="M213.70 299.9v-1.5M213.70 173.3v1.5M238.90 299.9v-1.5M238.90 173.3v1.5M264.10 299.9v-1.5M264.10 173.3v1.5M289.30 299.9v-1.5M289.30 173.3v1.5M314.50 299.9v-1.5M314.50 173.3v1.5M213.7 299.90h1.5M314.5 299.90h-1.5M213.7 274.58h1.5M314.5 274.58h-1.5M213.7 249.26h1.5M314.5 249.26h-1.5M213.7 223.94h1.5M314.5 223.94h-1.5M213.7 198.62h1.5M314.5 198.62h-1.5M213.7 173.30h1.5M314.5 173.30h-1.5" stroke="#444" stroke-width="0.6" fill="none"/>
<text transform="translate(237.30,317.80) scale(1,0.88)" font-family="Liberation Serif, serif" font-weight="bold" font-size="7.2" fill="#262626">x coordinate (km) <tspan font-family="DejaVu Sans" font-size="11" dx="0.6" dy="0.3">→</tspan></text>
<text transform="translate(194.00,264.50) rotate(-90)" font-family="Liberation Serif, serif" font-weight="bold" font-size="7.2" fill="#262626">y coordinate (km) <tspan font-family="DejaVu Sans" font-size="11" dx="0.6" dy="0.3">→</tspan></text>
<text transform="translate(200.50,168.10) scale(1.05,0.9)" font-family="Liberation Serif, serif" font-weight="bold" font-size="8.2" fill="#222">d.</text>
<g clip-path="url(#clipf)"><g filter="url(#soft)">
<g>
<rect x="396" y="173.3" width="100.60" height="126.60" fill="#c8d0f5" />
<path d="M390,168 L456,168 L444,188 L428,208 L412,228 L396,246 L390,248 Z" fill="#6a84f0" filter="url(#b1)"/>
<path d="M390,168 L438,168 L428,186 L414,204 L400,222 L390,232 Z" fill="#4eaaf4" filter="url(#b1)"/>
<path d="M390,168 L416,168 L400,186 L390,192 Z" fill="#48b6f6" filter="url(#b2)"/>
<path d="M394,212 L426,174" stroke="#8ccaf8" stroke-width="1.2" opacity="0.6"/>
<path d="M452,168 L478,168 L476,196 L456,198 L446,190 Z" fill="#d6dcf6" filter="url(#b1)"/>
<path d="M454,176 L472,174 M450,184 L470,182 M456,192 L474,190" stroke="#4a66f0" stroke-width="0.9" opacity="0.6"/>
<path d="M476,168 L500,168 L500,274 L484,276 L478,252 L468,228 L458,210 L462,196 L476,190 Z" fill="#7088f2" filter="url(#b1)"/>
<path d="M460,210 C472,226 480,250 484,276 M466,202 C478,218 486,244 490,272 M472,196 C484,212 492,238 496,268 M478,188 C490,204 497,228 500,262 M484,180 C494,194 500,212 502,240" stroke="#eef0fc" stroke-width="0.8" fill="none" opacity="0.75"/>
<path d="M440,196 L460,198 L462,230 L456,252 L440,254 L432,236 L434,212 Z" fill="#d2d8f6" filter="url(#b1)"/>
<path d="M440,204 L452,210 M444,220 L456,226 M450,198 L456,208 M436,230 L446,236 M448,236 L458,244 M438,244 L450,248" stroke="#3a58f0" stroke-width="1.2" opacity="0.7"/>
<path d="M390,248 L400,240 L416,230 L436,232 L446,248 L436,256 L410,256 L390,256 Z" fill="#7890f2" filter="url(#b1)"/>
<path d="M420,244 L450,250" stroke="#2a8cf0" stroke-width="3" filter="url(#b1)"/>
<path d="M390,258 L426,258 L434,302 L390,302 Z" fill="#eff1fa" filter="url(#b1)"/>
<path d="M428,260 L448,262 L466,302 L432,302 Z" fill="#8a9cf2" filter="url(#b1)"/>
<path d="M432,270 C440,276 446,288 448,302 M438,266 C448,274 454,288 456,302" stroke="#eef0fc" stroke-width="0.8" fill="none" opacity="0.7"/>
<path d="M478,276 L500,272 L500,302 L480,302 Z" fill="#eceffa" filter="url(#b1)"/>
<path d="M446,246 L460,264 L470,282 L477,302" stroke="#28bcf4" stroke-width="6" fill="none" filter="url(#b1)"/>
<path d="M462,270 L471,288 L477,302" stroke="#80e070" stroke-width="3" fill="none" filter="url(#b05)"/>
<path d="M467,284 L475,302" stroke="#f09020" stroke-width="2.2" filter="url(#b05)"/>
</g>
<rect x="396" y="173.3" width="100.60" height="126.60" fill="url(#qgrid)" />
</g></g>
<rect x="396" y="173.3" width="100.60" height="126.60" fill="none" stroke="#7a7a7a" stroke-width="0.8"/>
<text transform="translate(396.20,308.70) scale(0.95,0.86)" font-family="Liberation Serif, serif" font-weight="bold" font-size="7.2" letter-spacing="0.45" fill="#222" text-anchor="middle">620</text>
<text transform="translate(421.35,308.70) scale(0.95,0.86)" font-family="Liberation Serif, serif" font-weight="bold" font-size="7.2" letter-spacing="0.45" fill="#222" text-anchor="middle">660</text>
<text transform="translate(446.50,308.70) scale(0.95,0.86)" font-family="Liberation Serif, serif" font-weight="bold" font-size="7.2" letter-spacing="0.45" fill="#222" text-anchor="middle">700</text>
<text transform="translate(471.65,308.70) scale(0.95,0.86)" font-family="Liberation Serif, serif" font-weight="bold" font-size="7.2" letter-spacing="0.45" fill="#222" text-anchor="middle">740</text>
<text transform="translate(496.80,308.70) scale(0.95,0.86)" font-family="Liberation Serif, serif" font-weight="bold" font-size="7.2" letter-spacing="0.45" fill="#222" text-anchor="middle">780</text>
<text transform="translate(393.60,302.90) scale(0.95,0.86)" font-family="Liberation Serif, serif" font-weight="bold" font-size="7.2" letter-spacing="0.45" fill="#222" text-anchor="end">900</text>
<text transform="translate(393.60,277.58) scale(0.95,0.86)" font-family="Liberation Serif, serif" font-weight="bold" font-size="7.2" letter-spacing="0.45" fill="#222" text-anchor="end">940</text>
<text transform="translate(393.60,252.26) scale(0.95,0.86)" font-family="Liberation Serif, serif" font-weight="bold" font-size="7.2" letter-spacing="0.45" fill="#222" text-anchor="end">980</text>
<text transform="translate(393.60,226.94) scale(0.95,0.86)" font-family="Liberation Serif, serif" font-weight="bold" font-size="7.2" letter-spacing="0.45" fill="#222" text-anchor="end">1020</text>
<text transform="translate(393.60,201.62) scale(0.95,0.86)" font-family="Liberation Serif, serif" font-weight="bold" font-size="7.2" letter-spacing="0.45" fill="#222" text-anchor="end">1060</text>
<text transform="translate(393.60,176.30) scale(0.95,0.86)" font-family="Liberation Serif, serif" font-weight="bold" font-size="7.2" letter-spacing="0.45" fill="#222" text-anchor="end">1100</text>
<path d="M396.00 299.9v-1.5M396.00 173.3v1.5M421.15 299.9v-1.5M421.15 173.3v1.5M446.30 299.9v-1.5M446.30 173.3v1.5M471.45 299.9v-1.5M471.45 173.3v1.5M496.60 299.9v-1.5M496.60 173.3v1.5M396 299.90h1.5M496.6 299.90h-1.5M396 274.58h1.5M496.6 274.58h-1.5M396 249.26h1.5M496.6 249.26h-1.5M396 223.94h1.5M496.6 223.94h-1.5M396 198.62h1.5M496.6 198.62h-1.5M396 173.30h1.5M496.6 173.30h-1.5" stroke="#444" stroke-width="0.6" fill="none"/>
<text transform="translate(419.60,317.80) scale(1,0.88)" font-family="Liberation Serif, serif" font-weight="bold" font-size="7.2" fill="#262626">x coordinate (km) <tspan font-family="DejaVu Sans" font-size="11" dx="0.6" dy="0.3">→</tspan></text>
<text transform="translate(376.30,264.50) rotate(-90)" font-family="Liberation Serif, serif" font-weight="bold" font-size="7.2" fill="#262626">y coordinate (km) <tspan font-family="DejaVu Sans" font-size="11" dx="0.6" dy="0.3">→</tspan></text>
<text transform="translate(382.80,168.10) scale(1.05,0.9)" font-family="Liberation Serif, serif" font-weight="bold" font-size="8.2" fill="#222">f.</text>
<rect x="146" y="15" width="11.00" height="284.50" fill="url(#cm)"/>
<path d="M155 249.69h2M146 249.69h2" stroke="#333" stroke-width="0.5" opacity="0.6"/>
<text x="158.60" y="252.19" font-family="Liberation Serif, serif" font-size="7.2" fill="#222">0.5</text>
<path d="M155 199.89h2M146 199.89h2" stroke="#333" stroke-width="0.5" opacity="0.6"/>
<text x="158.60" y="202.39" font-family="Liberation Serif, serif" font-size="7.2" fill="#222">1</text>
<path d="M155 150.08h2M146 150.08h2" stroke="#333" stroke-width="0.5" opacity="0.6"/>
<text x="158.60" y="152.58" font-family="Liberation Serif, serif" font-size="7.2" fill="#222">1.5</text>
<path d="M155 100.27h2M146 100.27h2" stroke="#333" stroke-width="0.5" opacity="0.6"/>
<text x="158.60" y="102.77" font-family="Liberation Serif, serif" font-size="7.2" fill="#222">2</text>
<path d="M155 50.46h2M146 50.46h2" stroke="#333" stroke-width="0.5" opacity="0.6"/>
<text x="158.60" y="52.96" font-family="Liberation Serif, serif" font-size="7.2" fill="#222">2.5</text>
<text transform="translate(179.60,156.30) rotate(-90) scale(0.983,1)" font-family="Liberation Serif, serif" font-weight="bold" font-size="14" fill="#161616" text-anchor="middle">depth averaged velocity, magnitude (m/s)</text>
<rect x="328" y="15" width="11.00" height="284.50" fill="url(#cm)"/>
<path d="M337 260.95h2M328 260.95h2" stroke="#333" stroke-width="0.5" opacity="0.6"/>
<text x="340.60" y="263.45" font-family="Liberation Serif, serif" font-size="7.2" fill="#222">0.5</text>
<path d="M337 222.40h2M328 222.40h2" stroke="#333" stroke-width="0.5" opacity="0.6"/>
<text x="340.60" y="224.90" font-family="Liberation Serif, serif" font-size="7.2" fill="#222">1</text>
<path d="M337 183.85h2M328 183.85h2" stroke="#333" stroke-width="0.5" opacity="0.6"/>
<text x="340.60" y="186.35" font-family="Liberation Serif, serif" font-size="7.2" fill="#222">1.5</text>
<path d="M337 145.30h2M328 145.30h2" stroke="#333" stroke-width="0.5" opacity="0.6"/>
<text x="340.60" y="147.80" font-family="Liberation Serif, serif" font-size="7.2" fill="#222">2</text>
<path d="M337 106.75h2M328 106.75h2" stroke="#333" stroke-width="0.5" opacity="0.6"/>
<text x="340.60" y="109.25" font-family="Liberation Serif, serif" font-size="7.2" fill="#222">2.5</text>
<path d="M337 68.20h2M328 68.20h2" stroke="#333" stroke-width="0.5" opacity="0.6"/>
<text x="340.60" y="70.70" font-family="Liberation Serif, serif" font-size="7.2" fill="#222">3</text>
<path d="M337 29.65h2M328 29.65h2" stroke="#333" stroke-width="0.5" opacity="0.6"/>
<text x="340.60" y="32.15" font-family="Liberation Serif, serif" font-size="7.2" fill="#222">3.5</text>
<text transform="translate(361.60,156.30) rotate(-90) scale(0.983,1)" font-family="Liberation Serif, serif" font-weight="bold" font-size="14" fill="#161616" text-anchor="middle">depth averaged velocity, magnitude (m/s)</text>
<rect x="510.2" y="15" width="11.50" height="284.50" fill="url(#cm)"/>
<path d="M519.7 299.50h2M510.2 299.50h2" stroke="#333" stroke-width="0.5" opacity="0.6"/>
<text x="523.30" y="302.00" font-family="Liberation Serif, serif" font-size="7.2" fill="#222">0</text>
<path d="M519.7 258.86h2M510.2 258.86h2" stroke="#333" stroke-width="0.5" opacity="0.6"/>
<text x="523.30" y="261.36" font-family="Liberation Serif, serif" font-size="7.2" fill="#222">1</text>
<path d="M519.7 218.21h2M510.2 218.21h2" stroke="#333" stroke-width="0.5" opacity="0.6"/>
<text x="523.30" y="220.71" font-family="Liberation Serif, serif" font-size="7.2" fill="#222">2</text>
<path d="M519.7 177.57h2M510.2 177.57h2" stroke="#333" stroke-width="0.5" opacity="0.6"/>
<text x="523.30" y="180.07" font-family="Liberation Serif, serif" font-size="7.2" fill="#222">3</text>
<path d="M519.7 136.93h2M510.2 136.93h2" stroke="#333" stroke-width="0.5" opacity="0.6"/>
<text x="523.30" y="139.43" font-family="Liberation Serif, serif" font-size="7.2" fill="#222">4</text>
<path d="M519.7 96.29h2M510.2 96.29h2" stroke="#333" stroke-width="0.5" opacity="0.6"/>
<text x="523.30" y="98.79" font-family="Liberation Serif, serif" font-size="7.2" fill="#222">5</text>
<path d="M519.7 55.64h2M510.2 55.64h2" stroke="#333" stroke-width="0.5" opacity="0.6"/>
<text x="523.30" y="58.14" font-family="Liberation Serif, serif" font-size="7.2" fill="#222">6</text>
<path d="M519.7 15.00h2M510.2 15.00h2" stroke="#333" stroke-width="0.5" opacity="0.6"/>
<text x="523.30" y="17.50" font-family="Liberation Serif, serif" font-size="7.2" fill="#222">7</text>
<text transform="translate(544.30,156.30) rotate(-90) scale(0.983,1)" font-family="Liberation Serif, serif" font-weight="bold" font-size="14" fill="#161616" text-anchor="middle">depth averaged velocity, magnitude (m/s)</text>
</svg></body></html>
